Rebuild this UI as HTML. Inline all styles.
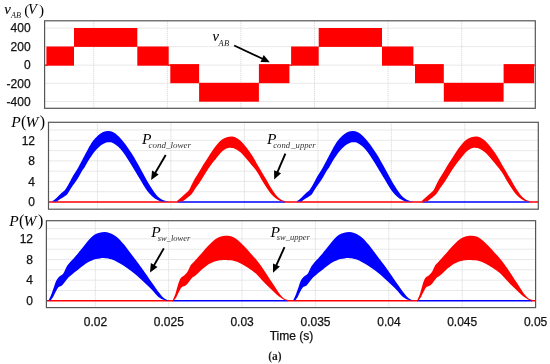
<!DOCTYPE html>
<html><head><meta charset="utf-8"><title>Figure (a)</title>
<style>
html,body{margin:0;padding:0;background:#fff;}
svg{display:block}
text{fill:#000}
.a{font-family:"Liberation Sans",sans-serif;font-size:12px;fill:#111;stroke:#111;stroke-width:0.25px}
.cap{font-family:"Liberation Serif","DejaVu Serif",serif;font-size:11.5px;font-weight:bold;fill:#222}
.m{font-family:"Liberation Serif",serif;font-style:italic;font-size:15.5px}
.m2{font-family:"Liberation Serif",serif;font-style:italic;font-size:14.5px}
.sub{font-family:"Liberation Serif",serif;font-style:italic;fill:#333}
.sub2{font-family:"Liberation Serif",serif;font-style:italic;font-size:8.2px;fill:#222}
.paren{font-family:"Liberation Serif",serif;font-size:15.2px}
.paren2{font-family:"Liberation Serif",serif;font-size:16px}
</style></head><body>
<svg width="550" height="364" viewBox="0 0 550 364">
<rect width="550" height="364" fill="#fff"/>
<g stroke="#d2d2d2" stroke-width="1" stroke-dasharray="1 1" fill="none"><line x1="44.6" y1="28.2" x2="535.3" y2="28.2"/><line x1="44.6" y1="46.6" x2="535.3" y2="46.6"/><line x1="44.6" y1="65.1" x2="535.3" y2="65.1"/><line x1="44.6" y1="83.3" x2="535.3" y2="83.3"/><line x1="44.6" y1="101.5" x2="535.3" y2="101.5"/><line x1="93.7" y1="20.8" x2="93.7" y2="108.3"/><line x1="167.3" y1="20.8" x2="167.3" y2="108.3"/><line x1="240.9" y1="20.8" x2="240.9" y2="108.3"/><line x1="314.5" y1="20.8" x2="314.5" y2="108.3"/><line x1="388.1" y1="20.8" x2="388.1" y2="108.3"/><line x1="461.7" y1="20.8" x2="461.7" y2="108.3"/></g>
<g fill="#ff0000"><rect x="46.4" y="46.5" width="27.6" height="19.2"/><rect x="74.0" y="28.0" width="63.3" height="18.9"/><rect x="137.3" y="46.5" width="31.4" height="19.2"/><rect x="170.3" y="64.1" width="28.8" height="19.1"/><rect x="199.1" y="82.8" width="59.8" height="18.9"/><rect x="258.9" y="64.1" width="30.5" height="19.1"/><rect x="291.1" y="46.5" width="27.6" height="19.2"/><rect x="318.7" y="28.0" width="63.3" height="18.9"/><rect x="382.0" y="46.5" width="31.4" height="19.2"/><rect x="415.0" y="64.1" width="28.8" height="19.1"/><rect x="443.8" y="82.8" width="59.8" height="18.9"/><rect x="503.6" y="64.1" width="30.5" height="19.1"/><rect x="44.6" y="64.5" width="3" height="1.3"/><rect x="168" y="64.5" width="3" height="1.3"/><rect x="288.8" y="64.5" width="3" height="1.3"/><rect x="412.4" y="64.5" width="3" height="1.3"/><rect x="533.4" y="64.5" width="1.6" height="1.3"/></g>
<rect x="44.6" y="20.8" width="490.7" height="87.5" fill="none" stroke="#555" stroke-width="1.2"/>
<g stroke="#d2d2d2" stroke-width="1" stroke-dasharray="1 1" fill="none"><line x1="48.5" y1="191.7" x2="538.3" y2="191.7"/><line x1="48.5" y1="181.4" x2="538.3" y2="181.4"/><line x1="48.5" y1="171.2" x2="538.3" y2="171.2"/><line x1="48.5" y1="160.9" x2="538.3" y2="160.9"/><line x1="48.5" y1="150.6" x2="538.3" y2="150.6"/><line x1="48.5" y1="140.3" x2="538.3" y2="140.3"/><line x1="48.5" y1="130.0" x2="538.3" y2="130.0"/><line x1="97.4" y1="122.3" x2="97.4" y2="209.2"/><line x1="170.9" y1="122.3" x2="170.9" y2="209.2"/><line x1="244.4" y1="122.3" x2="244.4" y2="209.2"/><line x1="317.9" y1="122.3" x2="317.9" y2="209.2"/><line x1="391.3" y1="122.3" x2="391.3" y2="209.2"/><line x1="464.8" y1="122.3" x2="464.8" y2="209.2"/></g>
<g stroke-width="1.45" fill="none"><path stroke="#0000ff" d="M177.8 202.0H285.1M422.4 202.0H529.7"/><path stroke="#ff0000" d="M48.5 202.0H178.3M284.6 202.0H422.9M529.2 202.0H538.3"/></g>
<g fill="#0000ff"><path d="M51.8 201.5C52.4 201.1 54.1 200.1 55.6 198.8C57.1 197.5 59.2 195.1 60.7 193.7C62.2 192.3 63.4 191.7 64.5 190.5C65.6 189.3 66.1 188.3 67.1 186.7C68.1 185.1 69.2 182.9 70.3 181.0C71.3 179.1 72.4 177.1 73.4 175.3C74.5 173.5 75.5 172.0 76.6 170.2C77.7 168.4 78.8 166.4 79.8 164.5C80.8 162.6 81.4 161.4 82.7 158.9C84.0 156.4 86.1 152.4 87.8 149.4C89.5 146.4 91.2 143.4 92.9 141.1C94.6 138.8 96.3 136.9 98.0 135.4C99.7 133.9 101.4 132.7 103.1 131.9C104.8 131.2 106.5 130.9 108.2 130.9C109.9 130.9 111.6 131.3 113.3 132.2C115.0 133.0 116.6 134.4 118.3 136.0C120.0 137.6 121.7 139.6 123.4 141.7C125.1 143.8 126.8 146.2 128.5 148.7C130.2 151.1 132.4 154.5 133.6 156.4C134.8 158.3 134.6 158.3 135.6 160.0C136.6 161.7 138.1 164.2 139.3 166.4C140.6 168.6 141.8 171.1 143.1 173.4C144.4 175.7 145.6 178.2 146.9 180.4C148.2 182.6 149.4 184.7 150.7 186.7C152.0 188.7 153.2 190.7 154.5 192.4C155.8 194.1 157.0 195.7 158.3 196.9C159.6 198.1 160.9 199.0 162.2 199.7C163.5 200.4 164.9 200.8 166.0 201.1C167.1 201.4 168.1 201.4 168.5 201.5L162.2 201.5C161.7 201.4 160.2 201.1 159.0 200.7C157.8 200.2 156.5 199.7 155.2 198.8C153.9 198.0 152.6 196.9 151.3 195.6C150.0 194.3 148.8 192.9 147.5 191.2C146.2 189.5 145.0 187.4 143.7 185.4C142.4 183.4 141.2 181.2 139.9 179.1C138.6 177.0 137.4 174.8 136.1 172.7C134.8 170.6 133.7 168.7 132.3 166.4C130.9 164.1 129.2 161.3 127.6 158.9C126.0 156.5 124.5 154.2 122.9 152.1C121.3 150.0 119.7 148.1 118.0 146.6C116.3 145.1 114.4 143.6 112.9 142.9C111.4 142.2 110.3 142.2 109.0 142.2C107.7 142.2 106.7 142.3 105.2 142.9C103.7 143.5 101.8 144.5 100.1 145.9C98.3 147.3 96.5 149.2 94.7 151.5C92.9 153.8 90.8 156.9 89.1 159.5C87.4 162.1 86.0 165.0 84.8 167.0C83.6 169.0 82.8 169.8 81.7 171.5C80.7 173.2 79.7 175.3 78.5 177.2C77.3 179.1 75.9 181.2 74.7 182.9C73.5 184.6 72.5 185.8 71.5 187.4C70.5 189.0 69.4 191.0 68.4 192.4C67.5 193.8 67.1 194.5 65.8 195.6C64.5 196.7 62.2 197.8 60.7 198.8C59.2 199.8 57.5 201.1 56.9 201.5Z"/><path d="M296.4 201.5C297.0 201.1 298.7 200.1 300.2 198.8C301.7 197.5 303.8 195.1 305.3 193.7C306.8 192.3 308.0 191.7 309.1 190.5C310.2 189.3 310.7 188.3 311.7 186.7C312.7 185.1 313.8 182.9 314.9 181.0C315.9 179.1 316.9 177.1 318.0 175.3C319.1 173.5 320.1 172.0 321.2 170.2C322.3 168.4 323.4 166.4 324.4 164.5C325.4 162.6 326.0 161.4 327.3 158.9C328.6 156.4 330.7 152.4 332.4 149.4C334.1 146.4 335.8 143.4 337.5 141.1C339.2 138.8 340.9 136.9 342.6 135.4C344.3 133.9 346.0 132.7 347.7 131.9C349.4 131.2 351.1 130.9 352.8 130.9C354.5 130.9 356.2 131.3 357.9 132.2C359.6 133.0 361.2 134.4 362.9 136.0C364.6 137.6 366.3 139.6 368.0 141.7C369.7 143.8 371.4 146.2 373.1 148.7C374.8 151.1 377.0 154.5 378.2 156.4C379.4 158.3 379.2 158.3 380.2 160.0C381.1 161.7 382.6 164.2 383.9 166.4C385.1 168.6 386.4 171.1 387.7 173.4C389.0 175.7 390.2 178.2 391.5 180.4C392.8 182.6 394.0 184.7 395.3 186.7C396.6 188.7 397.8 190.7 399.1 192.4C400.4 194.1 401.6 195.7 402.9 196.9C404.2 198.1 405.5 199.0 406.8 199.7C408.1 200.4 409.6 200.8 410.6 201.1C411.7 201.4 412.7 201.4 413.1 201.5L406.8 201.5C406.3 201.4 404.8 201.1 403.6 200.7C402.4 200.2 401.1 199.7 399.8 198.8C398.5 198.0 397.2 196.9 395.9 195.6C394.6 194.3 393.4 192.9 392.1 191.2C390.8 189.5 389.6 187.4 388.3 185.4C387.0 183.4 385.8 181.2 384.5 179.1C383.2 177.0 382.0 174.8 380.7 172.7C379.4 170.6 378.3 168.7 376.9 166.4C375.5 164.1 373.8 161.3 372.2 158.9C370.6 156.5 369.1 154.2 367.5 152.1C365.9 150.0 364.3 148.1 362.6 146.6C360.9 145.1 359.0 143.6 357.5 142.9C356.0 142.2 354.9 142.2 353.6 142.2C352.3 142.2 351.3 142.3 349.8 142.9C348.3 143.5 346.4 144.5 344.7 145.9C342.9 147.3 341.1 149.2 339.3 151.5C337.5 153.8 335.4 156.9 333.7 159.5C332.0 162.1 330.6 165.0 329.4 167.0C328.2 169.0 327.4 169.8 326.3 171.5C325.2 173.2 324.3 175.3 323.1 177.2C321.9 179.1 320.5 181.2 319.3 182.9C318.1 184.6 317.2 185.8 316.1 187.4C315.1 189.0 313.9 191.0 313.0 192.4C312.1 193.8 311.7 194.5 310.4 195.6C309.1 196.7 306.8 197.8 305.3 198.8C303.8 199.8 302.1 201.1 301.5 201.5Z"/></g>
<g fill="#ff0000"><path d="M176.4 201.5C177.0 200.9 178.7 199.5 180.2 198.2C181.7 196.9 183.8 195.1 185.3 193.7C186.8 192.3 187.9 191.6 189.1 189.9C190.3 188.2 191.2 185.5 192.3 183.5C193.4 181.5 194.2 179.8 195.4 177.8C196.6 175.8 198.0 173.6 199.3 171.5C200.6 169.4 201.9 167.0 203.1 165.1C204.3 163.2 205.0 162.3 206.4 160.1C207.8 157.9 209.8 154.4 211.5 151.9C213.2 149.4 214.9 146.9 216.6 144.9C218.3 142.9 220.0 141.1 221.7 139.8C223.4 138.5 225.2 137.8 226.8 137.3C228.4 136.8 229.8 136.6 231.3 136.6C232.8 136.6 234.1 136.8 235.7 137.5C237.3 138.2 239.1 139.5 240.8 141.1C242.5 142.7 244.2 144.7 245.9 146.8C247.6 148.9 249.5 151.6 251.0 153.8C252.5 156.1 253.8 158.2 255.0 160.3C256.2 162.4 257.3 164.5 258.5 166.6C259.7 168.7 260.9 170.6 262.2 172.7C263.4 174.8 264.8 177.0 266.0 179.1C267.2 181.2 268.4 183.4 269.6 185.4C270.8 187.4 272.1 189.4 273.3 191.2C274.5 193.0 275.8 194.9 277.0 196.3C278.2 197.7 279.5 198.6 280.8 199.4C282.1 200.2 283.3 200.7 284.6 201.0C285.9 201.3 287.8 201.4 288.4 201.5L283.0 201.5C282.4 201.3 280.5 201.1 279.3 200.5C278.1 199.9 276.9 199.1 275.7 198.2C274.5 197.3 273.3 196.3 272.1 195.0C270.9 193.7 269.7 192.2 268.5 190.5C267.3 188.8 266.0 186.8 264.7 184.8C263.4 182.8 262.2 180.5 260.9 178.4C259.6 176.3 258.4 174.1 257.1 172.1C255.8 170.1 254.6 168.6 252.9 166.5C251.2 164.4 248.9 161.6 247.0 159.4C245.1 157.2 243.3 154.9 241.5 153.2C239.7 151.5 237.5 150.1 235.9 149.2C234.3 148.3 233.2 148.2 231.9 148.0C230.6 147.8 229.5 147.7 228.1 148.1C226.7 148.5 225.1 149.1 223.6 150.2C222.1 151.2 220.8 152.7 219.3 154.4C217.8 156.1 215.9 158.7 214.4 160.5C212.9 162.3 211.8 163.8 210.6 165.5C209.4 167.2 208.3 168.9 207.0 170.8C205.7 172.8 204.3 175.1 203.0 177.2C201.7 179.3 200.3 181.6 199.0 183.5C197.7 185.4 196.5 186.9 195.3 188.6C194.1 190.3 193.2 192.2 191.9 193.7C190.7 195.2 189.4 196.2 187.8 197.5C186.2 198.8 183.4 200.8 182.5 201.5Z"/><path d="M421.0 201.5C421.6 200.9 423.3 199.5 424.8 198.2C426.3 196.9 428.4 195.1 429.9 193.7C431.4 192.3 432.5 191.6 433.7 189.9C434.9 188.2 435.8 185.5 436.9 183.5C437.9 181.5 438.8 179.8 440.0 177.8C441.2 175.8 442.6 173.6 443.9 171.5C445.2 169.4 446.5 167.0 447.7 165.1C448.9 163.2 449.6 162.3 451.0 160.1C452.4 157.9 454.4 154.4 456.1 151.9C457.8 149.4 459.5 146.9 461.2 144.9C462.9 142.9 464.6 141.1 466.3 139.8C468.0 138.5 469.8 137.8 471.4 137.3C473.0 136.8 474.4 136.6 475.9 136.6C477.4 136.6 478.7 136.8 480.3 137.5C481.9 138.2 483.7 139.5 485.4 141.1C487.1 142.7 488.8 144.7 490.5 146.8C492.2 148.9 494.1 151.6 495.6 153.8C497.1 156.1 498.4 158.2 499.6 160.3C500.9 162.4 501.9 164.5 503.1 166.6C504.3 168.7 505.5 170.6 506.8 172.7C508.0 174.8 509.4 177.0 510.6 179.1C511.8 181.2 513.0 183.4 514.2 185.4C515.4 187.4 516.7 189.4 517.9 191.2C519.1 193.0 520.4 194.9 521.6 196.3C522.9 197.7 524.1 198.6 525.4 199.4C526.7 200.2 527.9 200.7 529.2 201.0C530.5 201.3 532.4 201.4 533.0 201.5L527.6 201.5C527.0 201.3 525.1 201.1 523.9 200.5C522.7 199.9 521.5 199.1 520.3 198.2C519.1 197.3 517.9 196.3 516.7 195.0C515.5 193.7 514.3 192.2 513.1 190.5C511.9 188.8 510.6 186.8 509.3 184.8C508.0 182.8 506.8 180.5 505.5 178.4C504.2 176.3 503.0 174.1 501.7 172.1C500.4 170.1 499.2 168.6 497.5 166.5C495.8 164.4 493.5 161.6 491.6 159.4C489.7 157.2 488.0 154.9 486.1 153.2C484.2 151.5 482.1 150.1 480.5 149.2C478.9 148.3 477.8 148.2 476.5 148.0C475.2 147.8 474.1 147.7 472.7 148.1C471.3 148.5 469.7 149.1 468.2 150.2C466.7 151.2 465.4 152.7 463.9 154.4C462.4 156.1 460.4 158.7 459.0 160.5C457.6 162.3 456.4 163.8 455.2 165.5C454.0 167.2 452.9 168.9 451.6 170.8C450.3 172.8 448.9 175.1 447.6 177.2C446.3 179.3 444.9 181.6 443.6 183.5C442.3 185.4 441.1 186.9 439.9 188.6C438.7 190.3 437.8 192.2 436.5 193.7C435.2 195.2 434.0 196.2 432.4 197.5C430.8 198.8 428.0 200.8 427.1 201.5Z"/></g>
<rect x="48.5" y="122.3" width="489.8" height="86.9" fill="none" stroke="#555" stroke-width="1.2"/>
<g stroke="#d2d2d2" stroke-width="1" stroke-dasharray="1 1" fill="none"><line x1="46.4" y1="290.5" x2="535.6" y2="290.5"/><line x1="46.4" y1="280.2" x2="535.6" y2="280.2"/><line x1="46.4" y1="269.8" x2="535.6" y2="269.8"/><line x1="46.4" y1="259.5" x2="535.6" y2="259.5"/><line x1="46.4" y1="249.2" x2="535.6" y2="249.2"/><line x1="46.4" y1="238.9" x2="535.6" y2="238.9"/><line x1="46.4" y1="228.6" x2="535.6" y2="228.6"/><line x1="95.3" y1="220.7" x2="95.3" y2="307.6"/><line x1="168.7" y1="220.7" x2="168.7" y2="307.6"/><line x1="242.0" y1="220.7" x2="242.0" y2="307.6"/><line x1="315.4" y1="220.7" x2="315.4" y2="307.6"/><line x1="388.8" y1="220.7" x2="388.8" y2="307.6"/><line x1="462.2" y1="220.7" x2="462.2" y2="307.6"/></g>
<g stroke-width="1.45" fill="none"><path stroke="#0000ff" d="M172.5 300.8H287.5M417.1 300.8H532.0"/><path stroke="#ff0000" d="M46.4 300.8H173M287 300.8H417.6M531.5 300.8H535.6"/></g>
<g fill="#0000ff"><path d="M48.5 300.5C49.0 299.5 50.4 296.6 51.3 294.4C52.2 292.2 52.9 289.7 53.8 287.4C54.6 285.1 55.4 282.2 56.4 280.4C57.4 278.6 58.4 277.7 59.5 276.5C60.6 275.3 62.1 275.0 63.3 273.4C64.5 271.8 65.5 268.7 66.5 267.0C67.5 265.3 68.1 264.5 69.4 263.0C70.7 261.5 72.5 260.0 74.1 258.1C75.7 256.2 77.5 253.8 79.2 251.7C80.9 249.6 82.6 247.5 84.3 245.4C86.0 243.3 87.7 241.0 89.4 239.2C91.1 237.4 92.7 235.9 94.4 234.8C96.1 233.7 97.8 233.2 99.5 232.7C101.2 232.2 102.9 231.9 104.6 231.9C106.3 231.9 107.8 232.3 109.5 232.9C111.2 233.5 113.0 234.4 114.6 235.4C116.2 236.4 117.4 237.4 119.0 238.9C120.6 240.4 122.4 242.5 124.1 244.6C125.8 246.7 127.6 249.2 129.3 251.5C131.1 253.8 132.8 256.1 134.6 258.5C136.4 260.9 138.6 263.8 140.0 265.7C141.4 267.6 142.2 268.6 143.3 270.2C144.4 271.8 145.6 273.4 146.7 275.0C147.8 276.6 148.8 278.2 150.0 279.9C151.2 281.6 152.4 283.3 153.6 285.0C154.8 286.7 156.2 288.8 157.2 290.2C158.2 291.6 158.9 292.3 159.6 293.2C160.3 294.1 160.8 294.8 161.5 295.7C162.2 296.6 163.1 297.6 164.1 298.3C165.1 299.0 166.4 299.5 167.3 299.9C168.2 300.3 169.4 300.4 169.8 300.5L167.5 300.5C167.2 300.4 166.4 300.5 165.4 300.2C164.4 299.9 162.9 299.6 161.6 298.9C160.3 298.2 159.2 297.6 157.7 296.2C156.1 294.8 154.1 292.1 152.3 290.2C150.5 288.3 148.8 286.7 147.0 285.0C145.2 283.3 143.5 281.6 141.7 279.9C139.9 278.2 138.1 276.6 136.2 275.0C134.3 273.4 132.5 272.0 130.5 270.5C128.5 269.0 126.2 267.4 124.1 266.0C122.0 264.6 119.8 263.3 117.7 262.2C115.6 261.1 113.5 260.0 111.4 259.3C109.3 258.6 106.9 258.4 105.0 258.2C103.1 258.0 101.5 258.2 100.0 258.4C98.5 258.5 97.3 258.8 96.0 259.1C94.7 259.4 93.3 259.9 92.0 260.4C90.7 260.9 89.3 261.6 88.0 262.3C86.7 263.1 85.3 263.9 84.0 264.9C82.7 265.8 81.3 266.9 80.0 268.0C78.7 269.1 77.3 270.2 76.0 271.3C74.7 272.4 73.3 273.4 72.0 274.5C70.7 275.6 69.5 276.4 68.4 277.6C67.3 278.8 66.3 280.3 65.2 281.6C64.1 282.9 63.2 284.4 62.0 285.4C60.8 286.4 59.2 286.3 58.2 287.4C57.2 288.5 56.6 290.2 55.7 291.8C54.9 293.4 54.0 295.4 53.1 296.9C52.2 298.3 51.0 299.9 50.6 300.5Z"/><path d="M293.1 300.5C293.5 299.5 295.0 296.6 295.9 294.4C296.7 292.2 297.5 289.7 298.4 287.4C299.2 285.1 300.0 282.2 300.9 280.4C301.9 278.6 302.9 277.7 304.1 276.5C305.2 275.3 306.7 275.0 307.9 273.4C309.0 271.8 310.0 268.7 311.1 267.0C312.1 265.3 312.7 264.5 314.0 263.0C315.2 261.5 317.0 260.0 318.6 258.1C320.3 256.2 322.1 253.8 323.8 251.7C325.4 249.6 327.2 247.5 328.9 245.4C330.6 243.3 332.3 241.0 334.0 239.2C335.6 237.4 337.3 235.9 339.0 234.8C340.6 233.7 342.4 233.2 344.1 232.7C345.8 232.2 347.5 231.9 349.1 231.9C350.8 231.9 352.4 232.3 354.1 232.9C355.7 233.5 357.6 234.4 359.1 235.4C360.7 236.4 362.0 237.4 363.6 238.9C365.1 240.4 366.9 242.5 368.6 244.6C370.4 246.7 372.1 249.2 373.9 251.5C375.6 253.8 377.4 256.1 379.1 258.5C380.9 260.9 383.1 263.8 384.6 265.7C386.0 267.6 386.7 268.6 387.9 270.2C389.0 271.8 390.1 273.4 391.2 275.0C392.4 276.6 393.4 278.2 394.6 279.9C395.7 281.6 396.9 283.3 398.1 285.0C399.3 286.7 400.8 288.8 401.8 290.2C402.8 291.6 403.4 292.3 404.1 293.2C404.9 294.1 405.3 294.8 406.1 295.7C406.8 296.6 407.7 297.6 408.6 298.3C409.6 299.0 410.9 299.5 411.9 299.9C412.8 300.3 413.9 300.4 414.4 300.5L412.1 300.5C411.7 300.4 410.9 300.5 410.0 300.2C409.0 299.9 407.4 299.6 406.1 298.9C404.9 298.2 403.8 297.6 402.2 296.2C400.7 294.8 398.6 292.1 396.9 290.2C395.1 288.3 393.3 286.7 391.6 285.0C389.8 283.3 388.1 281.6 386.2 279.9C384.4 278.2 382.6 276.6 380.8 275.0C378.9 273.4 377.1 272.0 375.1 270.5C373.0 269.0 370.8 267.4 368.6 266.0C366.5 264.6 364.4 263.3 362.2 262.2C360.1 261.1 358.1 260.0 356.0 259.3C353.8 258.6 351.5 258.4 349.6 258.2C347.6 258.0 346.1 258.2 344.6 258.4C343.1 258.5 341.9 258.8 340.6 259.1C339.2 259.4 337.9 259.9 336.6 260.4C335.2 260.9 333.9 261.6 332.6 262.3C331.2 263.1 329.9 263.9 328.6 264.9C327.2 265.8 325.9 266.9 324.6 268.0C323.2 269.1 321.9 270.2 320.6 271.3C319.2 272.4 317.8 273.4 316.6 274.5C315.3 275.6 314.1 276.4 313.0 277.6C311.8 278.8 310.8 280.3 309.8 281.6C308.7 282.9 307.7 284.4 306.6 285.4C305.4 286.4 303.8 286.3 302.8 287.4C301.7 288.5 301.1 290.2 300.2 291.8C299.4 293.4 298.5 295.4 297.7 296.9C296.8 298.3 295.6 299.9 295.2 300.5Z"/></g>
<g fill="#ff0000"><path d="M172.6 300.5C173.0 299.5 174.3 296.9 175.2 294.4C176.1 291.9 176.9 288.1 177.8 285.4C178.7 282.7 179.5 280.0 180.6 278.3C181.7 276.6 183.3 276.3 184.4 275.3C185.5 274.3 186.3 273.7 187.3 272.1C188.3 270.5 189.5 267.3 190.4 265.7C191.3 264.1 191.8 264.1 193.0 262.7C194.2 261.3 196.2 259.2 197.8 257.4C199.5 255.6 201.2 253.6 202.9 251.7C204.6 249.8 206.3 247.8 208.0 246.0C209.7 244.2 211.4 242.3 213.1 240.9C214.8 239.5 216.5 238.3 218.2 237.5C219.9 236.7 221.8 236.2 223.3 235.9C224.8 235.6 225.7 235.6 227.1 235.7C228.5 235.8 230.3 235.9 231.8 236.5C233.3 237.1 234.8 237.9 236.3 239.0C237.8 240.1 239.4 241.6 240.7 242.8C242.0 244.0 242.9 244.9 244.0 246.0C245.1 247.1 246.2 248.2 247.1 249.2C248.0 250.2 248.8 251.2 249.7 252.2C250.5 253.2 251.0 253.7 252.2 255.0C253.3 256.3 255.2 258.3 256.6 260.0C258.0 261.7 259.1 263.3 260.4 265.1C261.7 266.9 263.0 268.9 264.3 270.8C265.6 272.7 266.8 274.6 268.1 276.5C269.4 278.4 270.6 280.4 271.9 282.3C273.2 284.2 274.4 286.1 275.7 288.0C277.0 289.9 278.2 292.1 279.5 293.7C280.8 295.3 282.0 296.9 283.3 297.9C284.6 298.9 285.9 299.4 287.2 299.8C288.5 300.2 290.4 300.4 291.0 300.5L287.5 300.5C286.8 300.3 284.9 300.0 283.5 299.4C282.1 298.8 280.6 297.8 279.0 296.6C277.4 295.4 275.8 293.7 274.0 292.0C272.2 290.3 270.1 288.4 268.2 286.5C266.2 284.6 264.1 282.4 262.3 280.5C260.5 278.6 258.8 276.5 257.3 275.0C255.8 273.5 255.2 273.0 253.5 271.7C251.8 270.4 249.2 268.7 247.1 267.3C245.0 265.9 242.8 264.6 240.7 263.5C238.6 262.4 236.5 261.4 234.4 260.9C232.3 260.4 229.4 260.4 228.0 260.3C226.6 260.2 227.1 260.0 225.8 260.0C224.5 260.0 221.7 260.1 220.0 260.3C218.3 260.5 216.8 260.8 215.5 261.2C214.2 261.6 213.4 262.0 212.3 262.5C211.2 263.0 210.2 263.5 209.1 264.1C208.0 264.7 207.1 265.4 206.0 266.2C204.9 267.0 203.9 267.8 202.7 268.8C201.5 269.8 200.2 271.1 199.0 272.2C197.8 273.3 196.6 274.6 195.4 275.6C194.2 276.6 192.9 277.0 191.7 278.3C190.4 279.6 189.1 281.9 187.9 283.2C186.7 284.5 185.8 285.4 184.7 286.1C183.6 286.8 182.4 286.4 181.5 287.4C180.6 288.3 179.8 290.2 179.0 291.8C178.2 293.4 177.3 295.4 176.5 296.9C175.7 298.3 174.3 299.9 173.9 300.5Z"/><path d="M417.1 300.5C417.6 299.5 418.9 296.9 419.8 294.4C420.6 291.9 421.5 288.1 422.4 285.4C423.2 282.7 424.0 280.0 425.1 278.3C426.2 276.6 427.8 276.3 429.0 275.3C430.1 274.3 430.9 273.7 431.9 272.1C432.9 270.5 434.0 267.3 435.0 265.7C435.9 264.1 436.3 264.1 437.6 262.7C438.8 261.3 440.7 259.2 442.4 257.4C444.0 255.6 445.8 253.6 447.5 251.7C449.2 249.8 450.9 247.8 452.6 246.0C454.2 244.2 455.9 242.3 457.6 240.9C459.3 239.5 461.1 238.3 462.8 237.5C464.4 236.7 466.4 236.2 467.9 235.9C469.3 235.6 470.2 235.6 471.6 235.7C473.1 235.8 474.8 235.9 476.4 236.5C477.9 237.1 479.4 237.9 480.9 239.0C482.3 240.1 484.0 241.6 485.2 242.8C486.5 244.0 487.5 244.9 488.6 246.0C489.6 247.1 490.7 248.2 491.6 249.2C492.6 250.2 493.4 251.2 494.2 252.2C495.1 253.2 495.6 253.7 496.8 255.0C497.9 256.3 499.8 258.3 501.2 260.0C502.5 261.7 503.7 263.3 504.9 265.1C506.2 266.9 507.6 268.9 508.9 270.8C510.1 272.7 511.4 274.6 512.7 276.5C513.9 278.4 515.2 280.4 516.5 282.3C517.7 284.2 519.0 286.1 520.2 288.0C521.5 289.9 522.8 292.1 524.0 293.7C525.3 295.3 526.6 296.9 527.9 297.9C529.1 298.9 530.5 299.4 531.8 299.8C533.0 300.2 534.9 300.4 535.5 300.5L532.0 300.5C531.4 300.3 529.5 300.0 528.0 299.4C526.6 298.8 525.1 297.8 523.5 296.6C522.0 295.4 520.3 293.7 518.5 292.0C516.8 290.3 514.7 288.4 512.8 286.5C510.8 284.6 508.7 282.4 506.9 280.5C505.0 278.6 503.3 276.5 501.9 275.0C500.4 273.5 499.8 273.0 498.1 271.7C496.4 270.4 493.8 268.7 491.6 267.3C489.5 265.9 487.4 264.6 485.2 263.5C483.1 262.4 481.1 261.4 479.0 260.9C476.8 260.4 474.0 260.4 472.6 260.3C471.1 260.2 471.7 260.0 470.4 260.0C469.0 260.0 466.3 260.1 464.6 260.3C462.8 260.5 461.3 260.8 460.1 261.2C458.8 261.6 457.9 262.0 456.9 262.5C455.8 263.0 454.7 263.5 453.6 264.1C452.6 264.7 451.6 265.4 450.6 266.2C449.5 267.0 448.4 267.8 447.2 268.8C446.1 269.8 444.8 271.1 443.6 272.2C442.3 273.3 441.2 274.6 440.0 275.6C438.7 276.6 437.5 277.0 436.2 278.3C435.0 279.6 433.6 281.9 432.5 283.2C431.3 284.5 430.3 285.4 429.2 286.1C428.2 286.8 427.0 286.4 426.1 287.4C425.1 288.3 424.4 290.2 423.6 291.8C422.7 293.4 421.9 295.4 421.1 296.9C420.2 298.3 418.9 299.9 418.5 300.5Z"/></g>
<rect x="46.4" y="220.7" width="489.2" height="86.9" fill="none" stroke="#555" stroke-width="1.2"/>
<line x1="234.2" y1="45.5" x2="263.0" y2="59.0" stroke="#000" stroke-width="1.9"/><polygon points="269.8,62.2 260.5,62.0 263.7,55.1" fill="#000"/>
<line x1="165.7" y1="155.1" x2="154.9" y2="173.4" stroke="#000" stroke-width="1.9"/><polygon points="151.1,179.9 152.1,170.6 158.7,174.5" fill="#000"/>
<line x1="285.4" y1="153.7" x2="277.2" y2="172.7" stroke="#000" stroke-width="1.9"/><polygon points="274.2,179.6 274.1,170.3 281.1,173.3" fill="#000"/>
<line x1="163.8" y1="248.4" x2="153.7" y2="265.9" stroke="#000" stroke-width="1.9"/><polygon points="150.0,272.4 150.9,263.1 157.5,266.9" fill="#000"/>
<line x1="284.5" y1="247.1" x2="276.1" y2="265.9" stroke="#000" stroke-width="1.9"/><polygon points="273.0,272.7 273.0,263.4 279.9,266.5" fill="#000"/>
<text x="30.6" y="32.3" class="a" text-anchor="end">400</text>
<text x="30.6" y="50.9" class="a" text-anchor="end">200</text>
<text x="30.6" y="69.3" class="a" text-anchor="end">0</text>
<text x="30.6" y="87.5" class="a" text-anchor="end">-200</text>
<text x="30.6" y="105.7" class="a" text-anchor="end">-400</text>
<text x="35.0" y="145.3" class="a" text-anchor="end">12</text>
<text x="35.0" y="165.3" class="a" text-anchor="end">8</text>
<text x="35.0" y="185.9" class="a" text-anchor="end">4</text>
<text x="35.0" y="205.9" class="a" text-anchor="end">0</text>
<text x="33.0" y="242.9" class="a" text-anchor="end">12</text>
<text x="33.0" y="263.5" class="a" text-anchor="end">8</text>
<text x="33.0" y="284.3" class="a" text-anchor="end">4</text>
<text x="33.0" y="304.9" class="a" text-anchor="end">0</text>
<text x="95.4" y="325.9" class="a" text-anchor="middle">0.02</text>
<text x="168.8" y="325.9" class="a" text-anchor="middle">0.025</text>
<text x="242.1" y="325.9" class="a" text-anchor="middle">0.03</text>
<text x="315.5" y="325.9" class="a" text-anchor="middle">0.035</text>
<text x="388.9" y="325.9" class="a" text-anchor="middle">0.04</text>
<text x="462.2" y="325.9" class="a" text-anchor="middle">0.045</text>
<text x="535.6" y="325.9" class="a" text-anchor="middle">0.05</text>
<text x="291.5" y="340.2" class="a" text-anchor="middle">Time (s)</text>
<text x="275.0" y="360.0" class="cap" text-anchor="middle">(a)</text>
<text x="142.0" y="144.2" class="m">P</text><text x="148.4" y="147.9" class="sub" font-size="9.0">cond_lower</text>
<text x="266.9" y="144.0" class="m">P</text><text x="273.3" y="147.7" class="sub" font-size="8.6">cond<tspan dx="1.3">_upper</tspan></text>
<text x="151.3" y="236.7" class="m">P</text><text x="157.7" y="240.8" class="sub" font-size="8.5">sw_lower</text>
<text x="270.4" y="236.7" class="m">P</text><text x="276.8" y="240.4" class="sub" font-size="8.5">sw_upper</text>
<text x="212.6" y="41.0" class="m" style="font-size:14.5px" stroke="#000" stroke-width="0.1">v</text><text x="218.4" y="45.5" class="sub2" style="font-size:8.4px;letter-spacing:0.5px">AB</text>
<text x="4.2" y="13.8" class="m" style="font-size:14.8px" stroke="#000" stroke-width="0.1">v</text><text x="10.9" y="18.2" class="sub2">AB</text><text x="24.2" y="14.5" class="paren">(</text><text x="28.0" y="13.7" class="m2">V</text><text x="38.9" y="14.5" class="paren">)</text>
<text x="11.2" y="126.9" class="m">P</text><text x="21.0" y="127.2" class="paren2">(</text><text x="25.5" y="126.9" class="m">W</text><text x="39.8" y="127.2" class="paren2">)</text>
<text x="9.3" y="225.5" class="m">P</text><text x="19.1" y="225.8" class="paren2">(</text><text x="23.6" y="225.5" class="m">W</text><text x="37.9" y="225.8" class="paren2">)</text>
</svg>
</body></html>
